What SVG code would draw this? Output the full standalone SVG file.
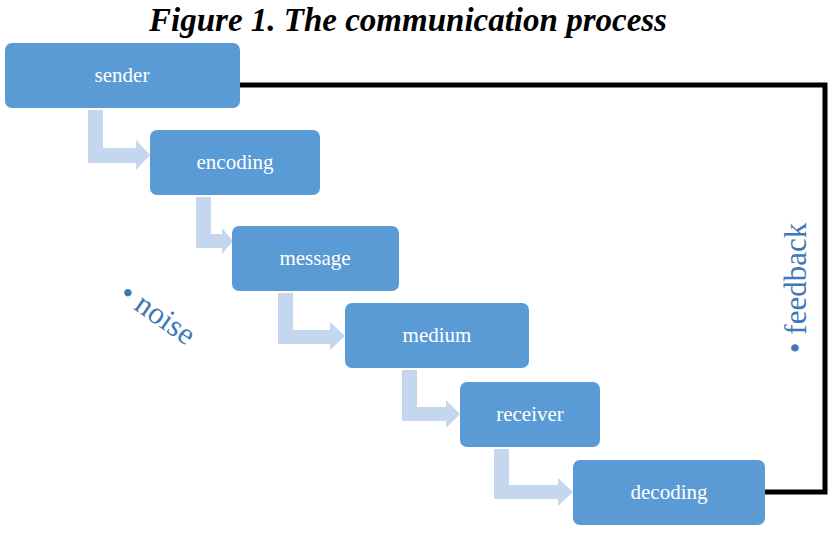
<svg xmlns="http://www.w3.org/2000/svg" width="834" height="541" viewBox="0 0 834 541">
<style>
.box{fill:#5b9bd5;}
.lbl{font-family:"Liberation Serif",serif;font-size:21px;fill:#fff;text-anchor:middle;}
.arr{fill:#c5d7ee;}
.side{font-family:"Liberation Serif",serif;font-size:31px;fill:#3f78b5;}
</style>
<rect width="834" height="541" fill="#fff"/>
<text x="408" y="31" font-family="Liberation Serif,serif" font-size="33" font-weight="bold" font-style="italic" text-anchor="middle">Figure 1. The communication process</text>
<g id="connectors">
<path d="M240 85 H825 V492 H765" fill="none" stroke="#000" stroke-width="5"/>
<path class="arr" d="M88 110 H103 V148 H136 V140 L150 155 L136 170 V163 H88 Z"/>
<path class="arr" d="M196 197 H211 V234 H222 V228 L233 241 L222 254 V248 H196 Z"/>
<path class="arr" d="M278 293 H293 V330 H330 V322 L345 336 L330 350 V344 H278 Z"/>
<path class="arr" d="M402 370 H417 V407 H446 V400 L460 414 L446 428 V421 H402 Z"/>
<path class="arr" d="M494 449 H509 V485 H558 V478 L573 492 L558 506 V499 H494 Z"/>
</g>
<g id="sender"><rect class="box" x="5" y="43" width="235" height="65" rx="7"/><text class="lbl" x="122" y="82">sender</text></g>
<g id="encoding"><rect class="box" x="150" y="130" width="170" height="65" rx="7"/><text class="lbl" x="235" y="169">encoding</text></g>
<g id="message"><rect class="box" x="232" y="226" width="167" height="65" rx="7"/><text class="lbl" x="315" y="265">message</text></g>
<g id="medium"><rect class="box" x="345" y="303" width="184" height="65" rx="7"/><text class="lbl" x="437" y="342">medium</text></g>
<g id="receiver"><rect class="box" x="460" y="382" width="140" height="65" rx="7"/><text class="lbl" x="530" y="421">receiver</text></g>
<g id="decoding"><rect class="box" x="573" y="460" width="192" height="65" rx="7"/><text class="lbl" x="669" y="499">decoding</text></g>
<text class="side" transform="translate(806,288) rotate(-90)" text-anchor="middle">• feedback</text>
<text class="side" transform="translate(152,322) rotate(35)" text-anchor="middle">• noise</text>
</svg>
